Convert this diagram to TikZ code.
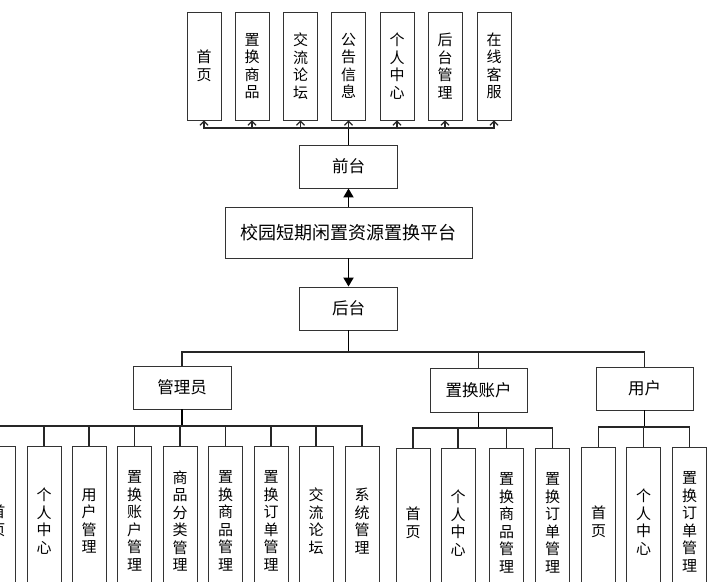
\documentclass[tikz,border=0pt]{standalone}
\usepackage{fontspec}
\newfontfamily\cjk{Noto Sans CJK SC}
\usetikzlibrary{arrows.meta}

\tikzset{
  box/.style={draw=black!80, line width=0.9pt, fill=white, align=center, inner sep=0pt,
    font=\cjk\fontsize{16.5}{19}\selectfont},
  colbox/.style={box, minimum width=34pt, font=\cjk\fontsize{15}{17.5}\selectfont},
  topcol/.style={colbox, minimum height=108pt},
  subcol/.style={colbox, minimum height=150pt},
  link/.style={black!85, line width=1.2pt},
  trunk/.style={black, line width=1.8pt},
}

\begin{document}
\begin{tikzpicture}[x=1pt,y=-1pt]
    \useasboundingbox (0,0) rectangle (714,581);
    \clip (0,0) rectangle (714,581);
    % front end pages
    \node[topcol] (shouye) at (204,66) {首\\页};
    \node[topcol] (shangpin) at (252,66) {置\\换\\商\\品};
    \node[topcol] (luntan) at (300.5,66) {交\\流\\论\\坛};
    \node[topcol] (gonggao) at (348.5,66) {公\\告\\信\\息};
    \node[topcol] (geren) at (397,66) {个\\人\\中\\心};
    \node[topcol] (houguan) at (445,66) {后\\台\\管\\理};
    \node[topcol] (kefu) at (494,66) {在\\线\\客\\服};
    % middle
    \node[box, minimum width=98pt, minimum height=43pt] (qiantai) at (348.5,166.5) {前台};
    \node[box, minimum width=247pt, minimum height=51pt, font=\cjk\fontsize{18}{20}\selectfont] (pingtai) at (348.5,232.5) {校园短期闲置资源置换平台};
    \node[box, minimum width=98pt, minimum height=43pt] (houtai) at (348.5,308.5) {后台};
    % roles
    \node[box, minimum width=98pt, minimum height=43pt] (guanli) at (182,387.5) {管理员};
    \node[box, minimum width=97pt, minimum height=44pt] (zhanghu) at (478.5,390) {置换账户};
    \node[box, minimum width=97pt, minimum height=43pt] (yonghu) at (644.5,388.5) {用户};
    % admin pages
    \node[subcol] (g1) at (-2,521) {首\\页};
    \node[subcol] (g2) at (44,521) {个\\人\\中\\心};
    \node[subcol] (g3) at (89,521) {用\\户\\管\\理};
    \node[subcol] (g4) at (134.5,521) {置\\换\\账\\户\\管\\理};
    \node[subcol] (g5) at (180,521) {商\\品\\分\\类\\管\\理};
    \node[subcol] (g6) at (225.5,521) {置\\换\\商\\品\\管\\理};
    \node[subcol] (g7) at (271,521) {置\\换\\订\\单\\管\\理};
    \node[subcol] (g8) at (316,521) {交\\流\\论\\坛};
    \node[subcol] (g9) at (362,521) {系\\统\\管\\理};
    % account pages
    \node[subcol] (z1) at (413,523) {首\\页};
    \node[subcol] (z2) at (458,523) {个\\人\\中\\心};
    \node[subcol] (z3) at (506.5,523) {置\\换\\商\\品\\管\\理};
    \node[subcol] (z4) at (552.5,523) {置\\换\\订\\单\\管\\理};
    % user pages
    \node[subcol] (y1) at (598.5,522) {首\\页};
    \node[subcol] (y2) at (643.5,522) {个\\人\\中\\心};
    \node[subcol] (y3) at (689.5,522) {置\\换\\订\\单\\管\\理};

    % bus points
    \coordinate (topbus) at (348.5,128);
    \coordinate (midbus) at (348.5,352);
    \coordinate (gbus) at (182,426);
    \coordinate (zbus) at (478.5,428);
    \coordinate (ybus) at (644.5,427);

    \draw[trunk] (qiantai.north) -- (topbus);
    \foreach \n in {shouye,shangpin,luntan,gonggao,geren,houguan,kefu}
      \draw[link,-{Straight Barb[length=4pt,width=8pt]}] (topbus) -| (\n.south);
    \draw[trunk,-{Triangle[length=9pt,width=10pt]}] (pingtai) -- (qiantai);
    \draw[trunk,-{Triangle[length=9pt,width=10pt]}] (pingtai) -- (houtai);
    \draw[trunk] (houtai) -- (midbus);
    \draw[link] (midbus) -| (guanli.north);
    \draw[link] (midbus) -| (zhanghu.north);
    \draw[link] (midbus) -| (yonghu.north);

    \draw[trunk] (guanli) -- (gbus);
    \foreach \n in {g1,g2,g3,g4,g5,g6,g7,g8,g9}
      \draw[link] (gbus) -| (\n.north);
    \draw[trunk] (zhanghu) -- (zbus);
    \foreach \n in {z1,z2,z3,z4}
      \draw[link] (zbus) -| (\n.north);
    \draw[trunk] (yonghu) -- (ybus);
    \foreach \n in {y1,y2,y3}
      \draw[link] (ybus) -| (\n.north);
\end{tikzpicture}
\end{document}
